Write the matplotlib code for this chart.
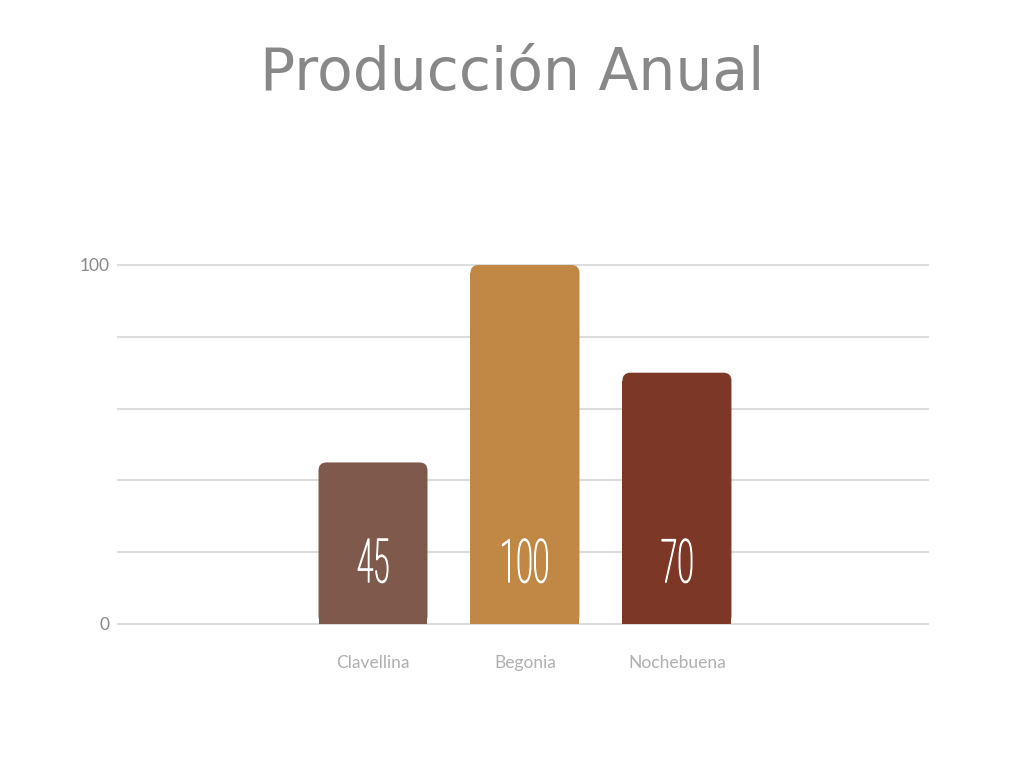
import matplotlib
matplotlib.use("Agg")
import matplotlib.pyplot as plt
import matplotlib.transforms as mtransforms
from matplotlib.patches import FancyBboxPatch, Rectangle, PathPatch
from matplotlib.textpath import TextPath
from matplotlib.font_manager import FontProperties

# data
categories = ["Clavellina", "Begonia", "Nochebuena"]
values = [45, 100, 70]
bar_colors = ["#7f5a4c", "#c08844", "#7d3726"]
y_ticks = [0, 20, 40, 60, 80, 100]
y_labels = ["0", "", "", "", "", "100"]

DPI = 100
fig = plt.figure(figsize=(10.24, 7.68), dpi=DPI)
fig.patch.set_facecolor("white")

# axes placed in pixels: x 118..928, y 265..624
XLIM = (-1.678, 3.652)
ax = fig.add_axes([118 / 1024, (768 - 624) / 768, 810 / 1024, 359 / 768])
ax.set_xlim(*XLIM)
ax.set_ylim(0, 100)
for s in ax.spines.values():
    s.set_visible(False)

ax.set_yticks(y_ticks)
ax.set_yticklabels(y_labels, fontfamily="Lato", fontsize=12.5, color="#888888")
ax.tick_params(axis="y", length=0, pad=6)
ax.set_xticks(range(len(categories)))
ax.set_xticklabels(categories, fontfamily="Lato", fontsize=12.5, color="#b0b0b0")
ax.tick_params(axis="x", length=0, pad=22)
for yv in y_ticks:
    ax.axhline(yv, color="#dddddd", linewidth=1.5, zorder=0, clip_on=False)

# rounded top corners: radius in pixels converted to data units
px_x = (XLIM[1] - XLIM[0]) / 810.0
px_y = 100.0 / 359.0
r_px = 8
bar_w = 0.717
for i, (v, c) in enumerate(zip(values, bar_colors)):
    x0 = i - bar_w / 2
    rx = r_px * px_x
    ry = r_px * px_y
    top = FancyBboxPatch((x0, 0), bar_w, v,
                         boxstyle=f"round,pad=0,rounding_size={rx}",
                         mutation_aspect=px_y / px_x,
                         facecolor=c, edgecolor="none", zorder=2)
    ax.add_patch(top)
    ax.add_patch(Rectangle((x0, 0), bar_w, v - ry, facecolor=c,
                           edgecolor="none", zorder=2))

# condensed thin value labels built from text paths
fp = FontProperties(family="Roboto", weight="light")
target_h = 44.0   # digit height in pixels
digit_w = 15.0    # width per digit in pixels
label_y = 17.6    # data units, centre of the label
for i, v in enumerate(values):
    tp = TextPath((0, 0), str(v), size=100, prop=fp)
    ext = tp.get_extents()
    sy = target_h / ext.height
    sx = digit_w * len(str(v)) / ext.width
    trans = (mtransforms.Affine2D()
             .translate(-(ext.x0 + ext.width / 2), -(ext.y0 + ext.height / 2))
             .scale(sx, sy)
             + mtransforms.ScaledTranslation(i, label_y, ax.transData))
    ax.add_artist(PathPatch(tp, transform=trans, facecolor="white",
                            edgecolor="white", linewidth=0.8, zorder=3))

fig.text(0.5, 1 - 90 / 768, "Producción Anual", ha="center", va="baseline",
         fontfamily="DejaVu Sans", fontsize=42, color="#888888")

fig.savefig("out.png", dpi=DPI)
